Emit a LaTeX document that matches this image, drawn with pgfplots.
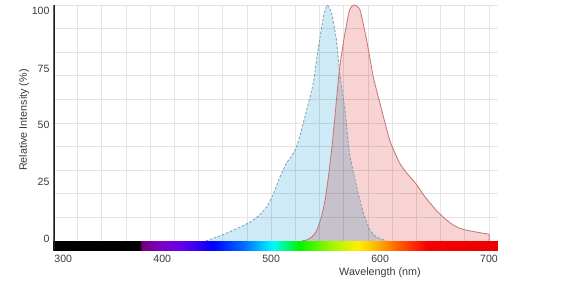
\documentclass[border=0pt]{standalone}
\usepackage{pgfplots}
\usepackage{pgfplotstable}
\pgfplotsset{compat=1.18}
\usepackage{fontspec}
\setmainfont{Liberation Sans}
\definecolor{txt}{HTML}{3A3A3A}
\definecolor{gridc}{HTML}{E4E4E4}
\definecolor{bluefill}{HTML}{CDEAF6}
\definecolor{blueline}{HTML}{7E9DAC}
\definecolor{redfill}{HTML}{F8D3D3}
\definecolor{redline}{HTML}{C87272}

\pgfplotstableread{
x y
440 0
446 1
455 2.5
465 4.6
472 6
480.5 8
488 10.5
496 14.5
502 20
508 27
514 33
518 35.5
522 38.5
526 44
532.6 55.5
538.7 67
543 81
548 95
551.5 100
555.5 96.5
560 85
563 71
567.8 55.5
572 37
578.5 23
584.6 12
590.7 4.6
596 2
600 1
606 0
}\excitation

\pgfplotstableread{
x y
528 0
533 0.5
538 2
542 4.6
546 10
549.4 17
552.5 27
555.5 38.5
558 50
560 60
563 74
567.7 88
572 98
576 100
581.5 98
587.7 85
593.8 69.5
601.5 55.5
609 42.5
618 33
625 28.5
632.7 24.4
640 19.5
646 16
653 12.3
661 8.9
667 6.8
673 5.4
680 4.5
686 4
693 3.4
700 2.8
700.01 0
}\emission

\begin{document}
\begin{tikzpicture}
\path[use as bounding box] (-53.4bp,-42bp) rectangle (515.6bp,251bp);
\begin{axis}[
  at={(0,0)}, anchor=south west,
  scale only axis, width=444.6bp, height=246bp,
  xmin=300, xmax=708.3, ymin=-4.24, ymax=100,
  axis line style={draw=none},
  major tick length=0, minor tick length=0,
  xtick={309,400,500,600,700},
  xticklabels={300,400,500,600,700},
  ytick={0.85,25,49,73,97.5},
  yticklabels={0,25,50,75,100},
  minor xtick={300,322.2222,...,708},
  minor ytick={10,20,...,100},
  xminorgrids, yminorgrids,
  minor grid style={gridc, line width=0.9bp},
  tick label style={font=\fontsize{10.6}{12}\selectfont, text=txt},
  yticklabel style={xshift=-0.5bp},
  xticklabel style={yshift=-0.5bp},
  label style={font=\fontsize{10.8}{12}\selectfont, text=txt},
  xlabel={Wavelength (nm)},
  ylabel={Relative Intensity (\%)},
  xlabel style={at={(rel axis cs:0.7346,-0.0894)}, anchor=center},
  ylabel style={at={(rel axis cs:-0.0661,0.532)}, anchor=center},
  colormap={spec}{
    rgb255(0pt)=(0,0,0)
    rgb255(79pt)=(0,0,0)
    rgb255(81pt)=(115,0,125)
    rgb255(100pt)=(125,0,200)
    rgb255(120pt)=(95,0,235)
    rgb255(147pt)=(0,0,255)
    rgb255(175pt)=(0,110,255)
    rgb255(202pt)=(0,250,250)
    rgb255(226pt)=(0,245,0)
    rgb255(255pt)=(160,245,0)
    rgb255(280pt)=(255,240,0)
    rgb255(300pt)=(255,165,0)
    rgb255(315pt)=(255,100,0)
    rgb255(343pt)=(245,0,0)
    rgb255(408.3pt)=(235,0,0)
  },
  point meta min=300, point meta max=708.3,
  clip=true,
]
\addplot[fill=bluefill, draw=none, blend mode=multiply, smooth, tension=0.3] table {\excitation} \closedcycle;
\addplot[fill=redfill, draw=none, blend mode=multiply, smooth, tension=0.3] table {\emission} \closedcycle;
\addplot[blueline, line width=0.8bp, dash pattern=on 2.5bp off 1.8bp, smooth, tension=0.3] table {\excitation};
\addplot[redline, line width=0.8bp, smooth, tension=0.3] table {\emission};
\addplot[surf, shader=interp, mesh/rows=2, mesh/cols=14, point meta=x] coordinates {
 (300,-4.24) (379,-4.24) (381,-4.24) (400,-4.24) (420,-4.24) (447,-4.24) (475,-4.24) (502,-4.24) (526,-4.24) (555,-4.24) (580,-4.24) (600,-4.24) (643,-4.24) (708.3,-4.24)
 (300,0) (379,0) (381,0) (400,0) (420,0) (447,0) (475,0) (502,0) (526,0) (555,0) (580,0) (600,0) (643,0) (708.3,0)
};
\draw[black!88, line width=2.2bp] (rel axis cs:0,0) -- (rel axis cs:0,1);
\end{axis}
\end{tikzpicture}
\end{document}
